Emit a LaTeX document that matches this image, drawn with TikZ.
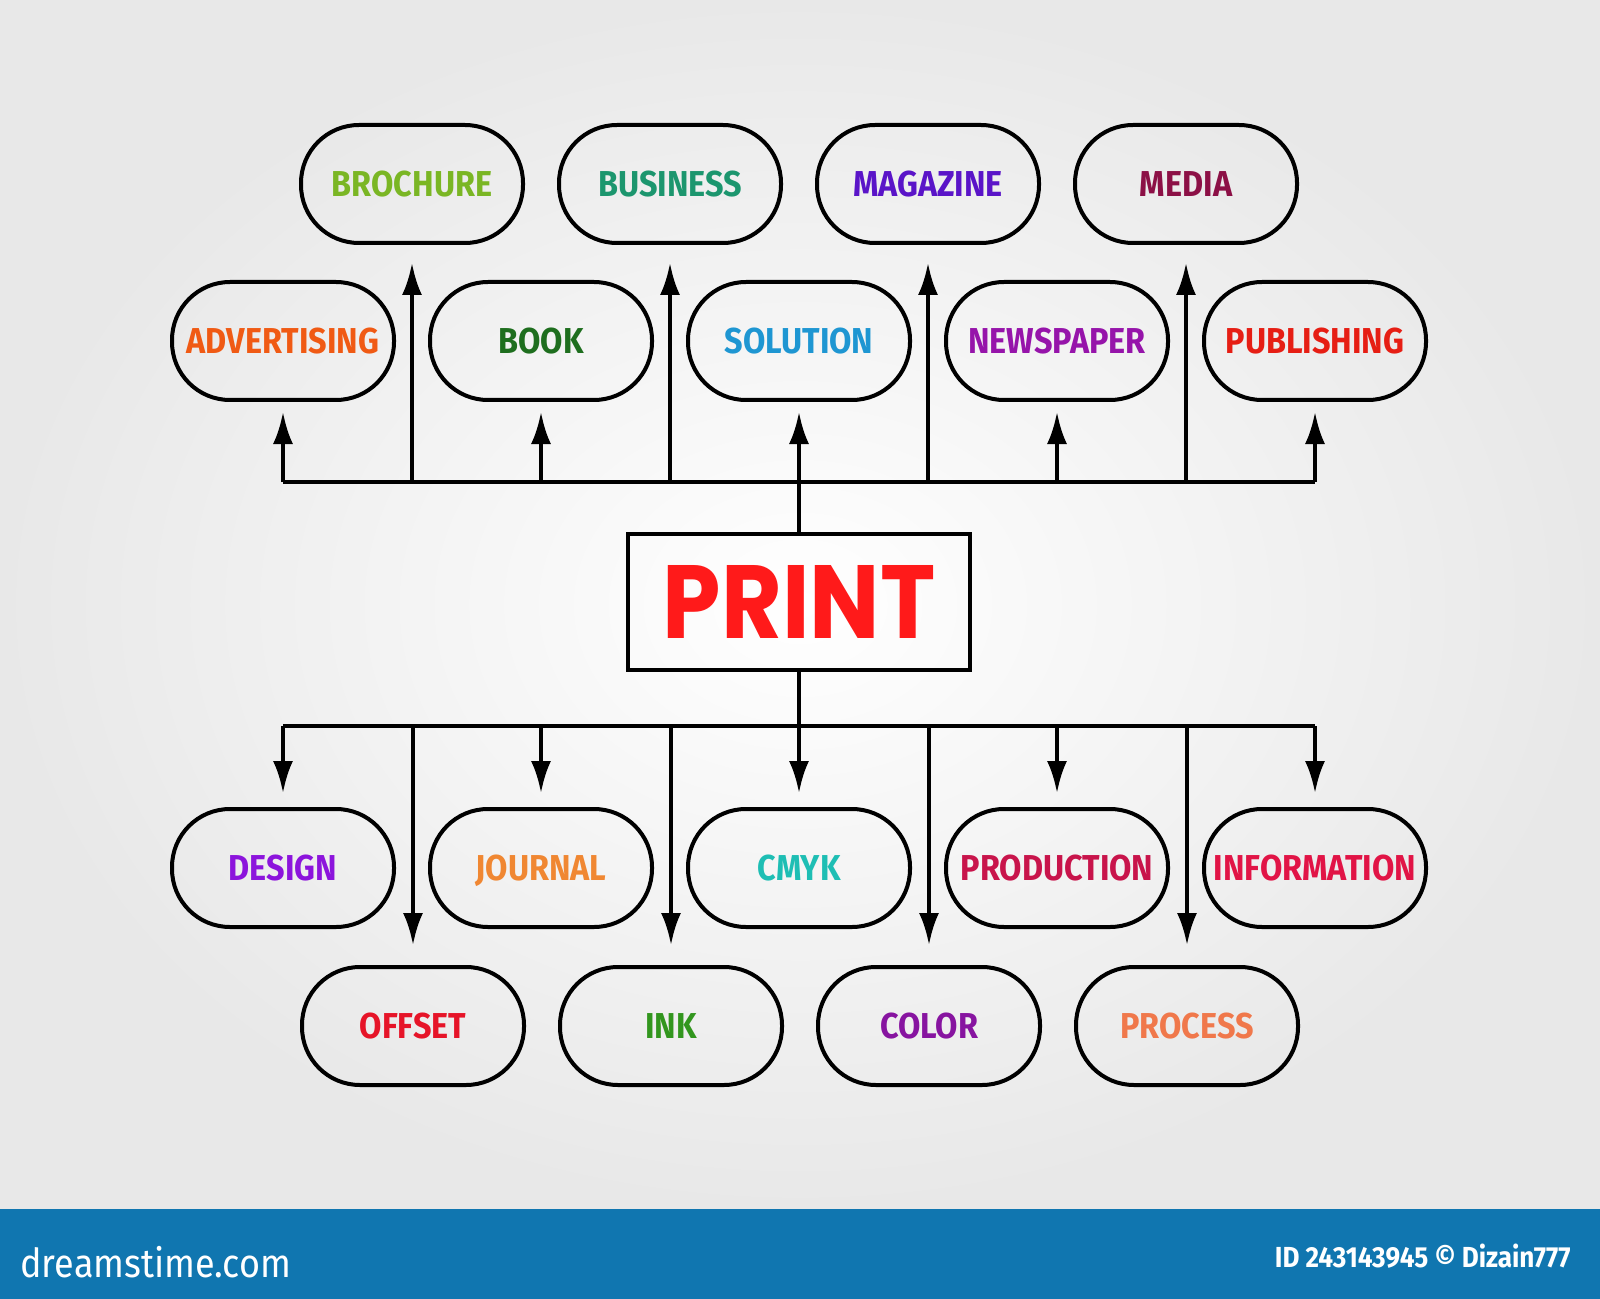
\documentclass[tikz,border=0pt]{standalone}
\usepackage{fontspec}
\usepackage{xcolor}
\usepackage{tikz}
\usetikzlibrary{positioning}
\usetikzlibrary{arrows.meta}

\newfontfamily\markerfont[FakeStretch=0.9]{Fira Sans}
\newfontfamily\printfont[FakeStretch=0.9]{Poppins}
\newfontfamily\bannerfont[FakeStretch=0.9]{Fira Sans}

\definecolor{printred}{HTML}{FF1A1A}
\definecolor{brochurecol}{HTML}{7AB624}
\definecolor{businesscol}{HTML}{1C966E}
\definecolor{magazinecol}{HTML}{5A14C8}
\definecolor{mediacol}{HTML}{8C1046}
\definecolor{advertcol}{HTML}{F05A14}
\definecolor{bookcol}{HTML}{1E6E1E}
\definecolor{solutioncol}{HTML}{1E96D2}
\definecolor{newspapercol}{HTML}{9614AA}
\definecolor{publishcol}{HTML}{E61E14}
\definecolor{designcol}{HTML}{8C14DC}
\definecolor{journalcol}{HTML}{F08732}
\definecolor{cmykcol}{HTML}{1EBEB4}
\definecolor{productcol}{HTML}{C8144B}
\definecolor{infocol}{HTML}{E11446}
\definecolor{offsetcol}{HTML}{E61428}
\definecolor{inkcol}{HTML}{32961E}
\definecolor{colorcol}{HTML}{8714A0}
\definecolor{processcol}{HTML}{F0784B}
\definecolor{bannerblue}{HTML}{1076B0}

\tikzset{
	bubble/.style={draw, line width=2pt, rounded corners=29pt, outer sep=0pt,
		minimum width=111pt, minimum height=59pt, inner sep=0pt,
		text height=12.4pt, text depth=0pt,
		font=\markerfont\bfseries\fontsize{18pt}{18pt}\selectfont},
	link/.style={line width=2pt},
	uparrow/.style={link, -{Latex[length=16pt,width=10pt]}},
	downarrow/.style={link, -{Latex[length=16pt,width=10pt]}},
}

\begin{document}
\begin{tikzpicture}[x=0.5pt, y=-0.5pt]
		
		% ---------------------
		% Proper size --- Bounding box
		\useasboundingbox (0,0) rectangle (1600,1299);
		
		\shade[inner color=white, outer color=black!9] (0,0) rectangle (1600,1209);
		\fill[bannerblue] (0,1209) rectangle (1600,1299);
		
		% ---------------------
		% Centre & rows
		
		\coordinate (Centre) at (799,602);
		
		\path (Centre) +(-387,-418) coordinate (Row1);
		\path (Centre) +(-516,-261) coordinate (Row2);
		\path (Centre) +(-516, 266) coordinate (Row3);
		\path (Centre) +(-386, 424) coordinate (Row4);
		
		\coordinate (BusTop) at (0,482);
		\coordinate (BusBottom) at (0,726);
		
		\node[draw, line width=2pt, minimum width=171pt, minimum height=68pt, inner sep=0pt, outer sep=0pt,
			text=printred, font=\printfont\bfseries\fontsize{52pt}{52pt}\selectfont] (Print) at (Centre) {PRINT};
		
		\node[bubble, text=brochurecol] (Brochure) at (Row1) {BROCHURE};
		\node[bubble, text=businesscol, right=18pt of Brochure] (Business) {BUSINESS};
		\node[bubble, text=magazinecol, right=18pt of Business] (Magazine) {MAGAZINE};
		\node[bubble, text=mediacol, right=18pt of Magazine] (Media) {MEDIA};
		
		\node[bubble, text=advertcol] (Advertising) at (Row2) {ADVERTISING};
		\node[bubble, text=bookcol, right=18pt of Advertising] (Book) {BOOK};
		\node[bubble, text=solutioncol, right=18pt of Book] (Solution) {SOLUTION};
		\node[bubble, text=newspapercol, right=18pt of Solution] (Newspaper) {NEWSPAPER};
		\node[bubble, text=publishcol, right=18pt of Newspaper] (Publishing) {PUBLISHING};
		
		\node[bubble, text=designcol] (Design) at (Row3) {DESIGN};
		\node[bubble, text=journalcol, right=18pt of Design] (Journal) {JOURNAL};
		\node[bubble, text=cmykcol, right=18pt of Journal] (Cmyk) {CMYK};
		\node[bubble, text=productcol, right=18pt of Cmyk] (Production) {PRODUCTION};
		\node[bubble, text=infocol, right=18pt of Production] (Information) {INFORMATION};
		
		\node[bubble, text=offsetcol] (Offset) at (Row4) {OFFSET};
		\node[bubble, text=inkcol, right=18pt of Offset] (Ink) {INK};
		\node[bubble, text=colorcol, right=18pt of Ink] (Color) {COLOR};
		\node[bubble, text=processcol, right=18pt of Color] (Process) {PROCESS};
		
		% ---------------------
		% Upper branches
		
		\draw[link] (Advertising |- BusTop) -- (Publishing |- BusTop);
		\draw[uparrow, shorten >=6pt] (Print.north) -- (Solution.south);
		
		\draw[uparrow, shorten >=6pt] (Advertising |- BusTop) -- (Advertising.south);
		\draw[uparrow, shorten >=6pt] (Book |- BusTop) -- (Book.south);
		\draw[uparrow, shorten >=6pt] (Newspaper |- BusTop) -- (Newspaper.south);
		\draw[uparrow, shorten >=6pt] (Publishing |- BusTop) -- (Publishing.south);
		
		\draw[uparrow, shorten >=10pt] (Brochure |- BusTop) -- (Brochure.south);
		\draw[uparrow, shorten >=10pt] (Business |- BusTop) -- (Business.south);
		\draw[uparrow, shorten >=10pt] (Magazine |- BusTop) -- (Magazine.south);
		\draw[uparrow, shorten >=10pt] (Media |- BusTop) -- (Media.south);
		
		% ---------------------
		% Lower branches
		
		\draw[link] (Design |- BusBottom) -- (Information |- BusBottom);
		\draw[link] (Print.south) -- (Print.south |- BusBottom);
		
		\draw[downarrow, shorten >=8pt] (Design |- BusBottom) -- (Design.north);
		\draw[downarrow, shorten >=8pt] (Journal |- BusBottom) -- (Journal.north);
		\draw[downarrow, shorten >=8pt] (Cmyk |- BusBottom) -- (Cmyk.north);
		\draw[downarrow, shorten >=8pt] (Production |- BusBottom) -- (Production.north);
		\draw[downarrow, shorten >=8pt] (Information |- BusBottom) -- (Information.north);
		
		\draw[downarrow, shorten >=11pt] (Offset |- BusBottom) -- (Offset.north);
		\draw[downarrow, shorten >=11pt] (Ink |- BusBottom) -- (Ink.north);
		\draw[downarrow, shorten >=11pt] (Color |- BusBottom) -- (Color.north);
		\draw[downarrow, shorten >=11pt] (Process |- BusBottom) -- (Process.north);
		
		% ---------------------
		% Banner
		
		\node[anchor=west, inner sep=0pt, text=white,
			font=\bannerfont\fontsize{20pt}{20pt}\selectfont] (Brand) at (20,1262) {dreamstime.com};
		\node[anchor=east, inner sep=0pt, text=white,
			font=\bannerfont\bfseries\fontsize{14.5pt}{14.5pt}\selectfont] (Credit) at (1571,1256) {ID 243143945 © Dizain777};
		
\end{tikzpicture}
\end{document}
